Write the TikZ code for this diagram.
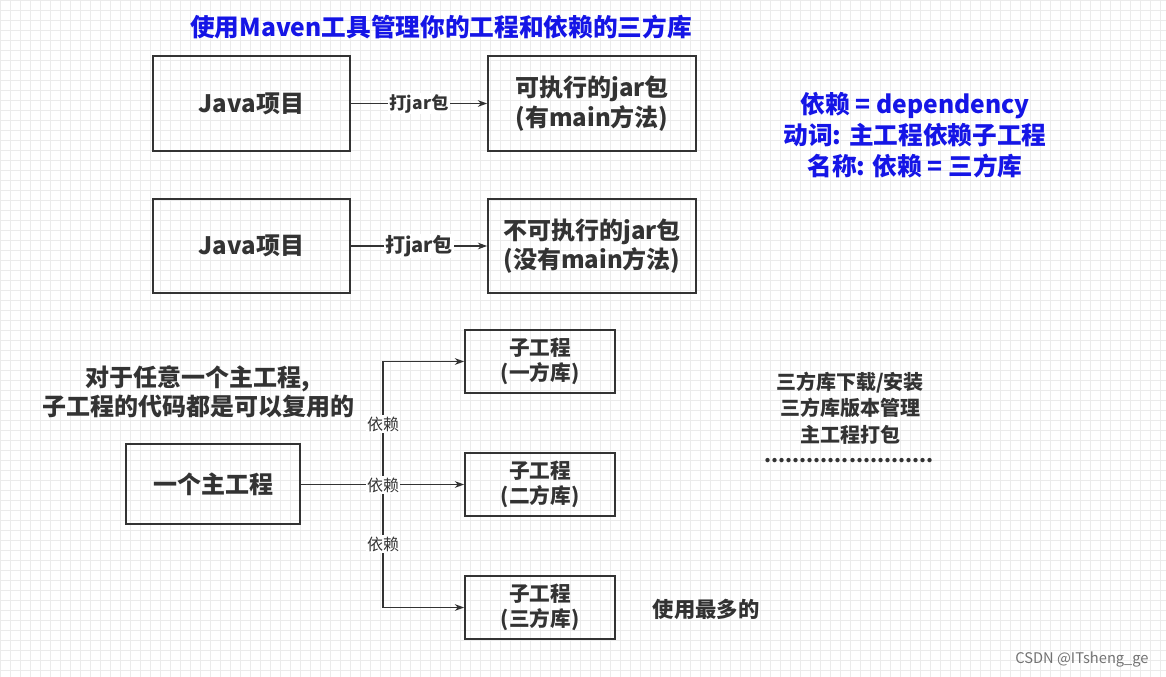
\documentclass[tikz,border=0pt]{standalone}
\usepackage{fontspec}
\setmainfont{Noto Sans CJK SC}
\usetikzlibrary{arrows.meta}
\definecolor{ink}{HTML}{333333}
\definecolor{bl}{HTML}{1515E6}
\begin{document}
\begin{tikzpicture}[x=0.75pt,y=-0.75pt,
 box/.style={draw=ink,line width=1.3pt,text=ink,align=center,font=\bfseries\fontsize{18}{22}\selectfont},
 arr/.style={draw=ink,line width=1pt,-{Stealth[length=7pt,width=5pt]}},
 lab/.style={fill=white,inner sep=1pt,text=ink,font=\fontsize{12}{14}\selectfont},
 big/.style={text=ink,font=\bfseries\fontsize{18}{22}\selectfont,align=center},
 blue/.style={text=bl,font=\bfseries\fontsize{18.5}{23.5}\selectfont,align=center},
 side/.style={text=ink,font=\bfseries\fontsize{15}{20}\selectfont,align=center}]
\useasboundingbox (0,0) rectangle (1166,677);
\fill[white] (0,0) rectangle (1166,677);
\foreach \i in {0,10,...,1160} \draw[black!8,line width=0.5pt] (\i,0) -- (\i,677);
\foreach \i in {0,10,...,670} \draw[black!8,line width=0.5pt] (0,\i) -- (1166,\i);
\node[blue] (title) at (441,27) {使用Maven工具管理你的工程和依赖的三方库};
\node[box,minimum width=197*0.75pt,minimum height=95*0.75pt] (j1) at (251.5,103.5) {Java项目};
\node[box,minimum width=208*0.75pt,minimum height=95*0.75pt] (p1) at (592,103.5) {可执行的jar包\\(有main方法)};
\node[box,minimum width=197*0.75pt,minimum height=94*0.75pt] (j2) at (251.5,246) {Java项目};
\node[box,minimum width=208*0.75pt,minimum height=94*0.75pt] (p2) at (592,246) {不可执行的jar包\\(没有main方法)};
\draw[arr] (j1) -- node[lab,font=\bfseries\fontsize{13}{15}\selectfont]{打jar包} (p1);
\draw[arr] (j2) -- node[lab,font=\bfseries\fontsize{15}{17}\selectfont]{打jar包} (p2);
\node[blue] (dep) at (915,135) {依赖 = dependency\\动词: 主工程依赖子工程\\名称: 依赖 = 三方库};
\node[big] (desc) at (198,392) {对于任意一个主工程,\\子工程的代码都是可以复用的};
\node[box,minimum width=174*0.75pt,minimum height=80*0.75pt] (m) at (213,484) {一个主工程};
\node[box,minimum width=150*0.75pt,minimum height=63*0.75pt,font=\bfseries\fontsize{15.5}{19}\selectfont] (s1) at (540,361.5) {子工程\\(一方库)};
\node[box,minimum width=150*0.75pt,minimum height=63*0.75pt,font=\bfseries\fontsize{15.5}{19}\selectfont] (s2) at (540,484.5) {子工程\\(二方库)};
\node[box,minimum width=150*0.75pt,minimum height=63*0.75pt,font=\bfseries\fontsize{15.5}{19}\selectfont] (s3) at (540,607.5) {子工程\\(三方库)};
\coordinate (b) at (383,484.5);
\draw[arr] (m.east |- b) -- (s2);
\draw[arr] (b) |- (s1);
\draw[arr] (b) |- (s3);
\node[lab] at (383,424) {依赖};
\node[lab] at (383,485) {依赖};
\node[lab] at (383,544) {依赖};
\node[side] (r) at (850,408) {三方库下载/安装\\三方库版本管理\\主工程打包};
\node[side] at (849,461) {........................};
\node[text=ink,font=\bfseries\fontsize{16}{19}\selectfont] (most) at (706,609) {使用最多的};
\node[text=black!55,font=\fontsize{11}{13}\selectfont] at (1082,659) {CSDN @ITsheng\_ge};
\end{tikzpicture}
\end{document}
